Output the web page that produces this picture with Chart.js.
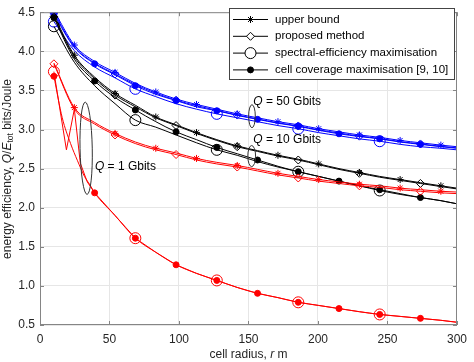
<!DOCTYPE html>
<html>
<head>
<meta charset="utf-8">
<script src="https://cdn.jsdelivr.net/npm/chart.js@4.4.1/dist/chart.umd.min.js"></script>
<style>
  html, body { margin: 0; padding: 0; background: #fff; }
  #wrap { width: 474px; height: 362px; }
</style>
</head>
<body>
<div id="wrap"><canvas id="chart"></canvas></div>
<script>
// cell radius r (m), common sample points
const radius = [10, 24.7, 39.3, 54, 68.6, 83.3, 97.9, 112.6, 127.2, 141.9, 156.5, 171.2, 185.8, 200.5, 215.1, 229.8, 244.4, 259.1, 273.7, 288.4, 300];
// finer sampling for the Q = 1 Gbits curves near small radii
const radiusQ1se = [10, 19, 24.7, 29, 34, 39.3, 54, 68.6, 83.3, 97.9, 112.6, 127.2, 141.9, 156.5, 171.2, 185.8, 200.5, 215.1, 229.8, 244.4, 259.1, 273.7, 288.4, 300];
const radiusQ1cc = [10, 16, 22, 27, 32, 36, 39.3, 54, 68.6, 83.3, 97.9, 112.6, 127.2, 141.9, 156.5, 171.2, 185.8, 200.5, 215.1, 229.8, 244.4, 259.1, 273.7, 288.4, 300];

// Q = 50 Gbits
const upper50    = [4.52, 4.08, 3.87, 3.73, 3.59, 3.48, 3.39, 3.32, 3.26, 3.20, 3.15, 3.10, 3.06, 3.01, 2.97, 2.93, 2.90, 2.86, 2.83, 2.80, 2.78];
const proposed50 = [4.49, 4.06, 3.85, 3.71, 3.575, 3.465, 3.375, 3.305, 3.245, 3.185, 3.135, 3.085, 3.045, 2.995, 2.955, 2.915, 2.885, 2.845, 2.815, 2.785, 2.765];
const spectral50 = [4.38, 4.01, 3.80, 3.66, 3.52, 3.42, 3.33, 3.26, 3.20, 3.15, 3.10, 3.05, 3.01, 2.96, 2.92, 2.88, 2.85, 2.81, 2.78, 2.76, 2.74];
const coverage50 = [4.47, 4.05, 3.84, 3.70, 3.56, 3.45, 3.37, 3.29, 3.24, 3.18, 3.13, 3.08, 3.04, 2.99, 2.945, 2.91, 2.88, 2.84, 2.81, 2.78, 2.76];

// Q = 10 Gbits
const upper10    = [4.46, 3.95, 3.67, 3.46, 3.31, 3.16, 3.06, 2.96, 2.87, 2.79, 2.73, 2.67, 2.62, 2.56, 2.50, 2.45, 2.40, 2.36, 2.32, 2.28, 2.25];
const proposed10 = [4.44, 3.93, 3.65, 3.44, 3.29, 3.15, 3.05, 2.95, 2.86, 2.78, 2.72, 2.66, 2.61, 2.55, 2.49, 2.44, 2.39, 2.35, 2.31, 2.27, 2.24];
const spectral10 = [4.32, 3.86, 3.56, 3.33, 3.12, 3.03, 2.93, 2.83, 2.74, 2.67, 2.59, 2.52, 2.46, 2.40, 2.34, 2.28, 2.22, 2.17, 2.13, 2.09, 2.05];
const coverage10 = [4.43, 3.90, 3.62, 3.41, 3.25, 3.10, 2.97, 2.87, 2.77, 2.69, 2.61, 2.53, 2.46, 2.40, 2.34, 2.28, 2.23, 2.18, 2.13, 2.09, 2.05];

// Q = 1 Gbits
const upper1    = [3.85, 3.28, 3.09, 2.95, 2.84, 2.76, 2.70, 2.63, 2.58, 2.54, 2.49, 2.44, 2.40, 2.36, 2.33, 2.30, 2.28, 2.25, 2.23, 2.21, 2.20];
const proposed1 = [3.84, 3.26, 3.07, 2.93, 2.82, 2.74, 2.68, 2.61, 2.56, 2.52, 2.47, 2.42, 2.38, 2.34, 2.31, 2.28, 2.26, 2.23, 2.21, 2.19, 2.18];
const spectral1 = [3.74, 2.74, 3.26, 2.57, 2.33, 2.19, 1.90, 1.61, 1.43, 1.27, 1.16, 1.07, 0.98, 0.905, 0.85, 0.79, 0.75, 0.71, 0.67, 0.635, 0.61, 0.585, 0.56, 0.535];
const coverage1 = [3.68, 3.15, 2.82, 2.60, 2.40, 2.29, 2.19, 1.90, 1.61, 1.43, 1.27, 1.16, 1.07, 0.98, 0.905, 0.85, 0.79, 0.75, 0.71, 0.67, 0.635, 0.61, 0.585, 0.56, 0.535];

const xTicks = [0, 50, 100, 150, 200, 250, 300];
const yTicks = [0.5, 1.0, 1.5, 2.0, 2.5, 3.0, 3.5, 4.0, 4.5];

const methodNames = ['upper bound', 'proposed method', 'spectral-efficiency maximisation', 'cell coverage maximisation [9, 10]'];

// marker look per method, MATLAB style
const markers = {
  upper:    { pointStyle: 'star',    size: 3.5, fill: false, from: 1, every: 2, to: 20 },
  proposed: { pointStyle: 'rectRot', size: 4,   fill: false, from: 0, every: 3, to: 20 },
  spectral: { pointStyle: 'circle',  size: 5.5, fill: false, from: 0, every: 4, to: 16 },
  coverage: { pointStyle: 'circle',  size: 3,   fill: true,  from: 0, every: 2, to: 18 }
};

const zip = (xs, ys) => xs.map((x, i) => ({ x: x, y: ys[i] }));

function makeSet(label, xs, ys, color, kind, straight) {
  const m = markers[kind];
  return {
    label: label,
    data: zip(xs, ys),
    borderColor: color,
    backgroundColor: m.fill ? color : 'rgba(0,0,0,0)',
    borderWidth: 1,
    pointStyle: m.pointStyle,
    pointBorderWidth: 1,
    pointRadius: ctx => {
      const i = radius.indexOf(ctx.raw.x);
      if (i < 0 || i < m.from || i > m.to) return 0;
      return (i - m.from) % m.every === 0 ? m.size : 0;
    },
    pointHoverRadius: 0,
    cubicInterpolationMode: straight ? 'default' : 'monotone',
    tension: 0,
    fill: false
  };
}

const RED = '#ff0000', BLACK = '#000000', BLUE = '#0000ff';

const datasets = [
  makeSet('upper bound, Q=1', radius, upper1, RED, 'upper'),
  makeSet('proposed, Q=1', radius, proposed1, RED, 'proposed'),
  makeSet('spectral, Q=1', radiusQ1se, spectral1, RED, 'spectral', true),
  makeSet('coverage, Q=1', radiusQ1cc, coverage1, RED, 'coverage'),
  makeSet('upper bound, Q=10', radius, upper10, BLACK, 'upper'),
  makeSet('proposed, Q=10', radius, proposed10, BLACK, 'proposed'),
  makeSet('spectral, Q=10', radius, spectral10, BLACK, 'spectral'),
  makeSet('coverage, Q=10', radius, coverage10, BLACK, 'coverage'),
  makeSet('upper bound, Q=50', radius, upper50, BLUE, 'upper'),
  makeSet('proposed, Q=50', radius, proposed50, BLUE, 'proposed'),
  makeSet('spectral, Q=50', radius, spectral50, BLUE, 'spectral'),
  makeSet('coverage, Q=50', radius, coverage50, BLUE, 'coverage')
];

// group labels: text anchor and ellipse, in data units
const groupNotes = [
  { q: '50', tx: 153.5, ty: 3.36, ex: 152.5, ey: 3.17, rx: 2.4, ry: 0.147 },
  { q: '10', tx: 153.5, ty: 2.87, ex: 152.3, ey: 2.66, rx: 2.8, ry: 0.135 },
  { q: '1',  tx: 39.5, ty: 2.52, ex: 33.2, ey: 2.76, rx: 4.4, ry: 0.59 }
];

const FONT = '"Liberation Sans", Arial, Helvetica, sans-serif';
const FRAME = '#858585';

function drawRuns(ctx, runs, x, y) {
  let cx = x;
  runs.forEach(r => {
    ctx.font = r.font;
    ctx.fillText(r.text, cx, y + (r.dy || 0));
    cx += ctx.measureText(r.text).width;
  });
}
function runsWidth(ctx, runs) {
  let w = 0;
  runs.forEach(r => { ctx.font = r.font; w += ctx.measureText(r.text).width; });
  return w;
}

const extras = {
  id: 'extras',
  afterDatasetsDraw(chart) {
    const ctx = chart.ctx;
    const a = chart.chartArea;
    const xs = chart.scales.x, ys = chart.scales.y;
    ctx.save();

    // frame with inward ticks
    ctx.strokeStyle = FRAME;
    ctx.lineWidth = 1;
    ctx.strokeRect(a.left + 0.5, a.top + 0.5, a.right - a.left - 1, a.bottom - a.top - 1);
    ctx.beginPath();
    xTicks.forEach(v => {
      const px = Math.round(xs.getPixelForValue(v)) + 0.5;
      ctx.moveTo(px, a.bottom); ctx.lineTo(px, a.bottom - 4);
      ctx.moveTo(px, a.top); ctx.lineTo(px, a.top + 4);
    });
    yTicks.forEach(v => {
      const py = Math.round(ys.getPixelForValue(v)) + 0.5;
      ctx.moveTo(a.left, py); ctx.lineTo(a.left + 4, py);
      ctx.moveTo(a.right, py); ctx.lineTo(a.right - 4, py);
    });
    ctx.stroke();

    // Q notes with ellipses
    ctx.fillStyle = '#000';
    ctx.textBaseline = 'middle';
    groupNotes.forEach(n => {
      const cx = xs.getPixelForValue(n.ex), cy = ys.getPixelForValue(n.ey);
      const rx = xs.getPixelForValue(n.ex + n.rx) - cx;
      const ry = cy - ys.getPixelForValue(n.ey + n.ry);
      ctx.strokeStyle = '#333';
      ctx.beginPath();
      ctx.ellipse(cx, cy, rx, ry, n.q === '1' ? -0.02 : 0, 0, Math.PI * 2);
      ctx.stroke();
      drawRuns(ctx, [
        { text: 'Q', font: 'italic 12px ' + FONT },
        { text: ' = ' + n.q + ' Gbits', font: '12px ' + FONT }
      ], xs.getPixelForValue(n.tx), ys.getPixelForValue(n.ty));
    });

    // legend box
    const lx = 229, ly = 8, lw = 225, lh = 71;
    ctx.fillStyle = '#fff';
    ctx.fillRect(lx, ly, lw, lh);
    ctx.strokeStyle = '#444';
    ctx.strokeRect(lx + 0.5, ly + 0.5, lw, lh);
    const kinds = ['upper', 'proposed', 'spectral', 'coverage'];
    kinds.forEach((k, i) => {
      const yy = 19.5 + i * 16.8;
      ctx.strokeStyle = '#000';
      ctx.lineWidth = 1;
      ctx.beginPath();
      ctx.moveTo(233, yy); ctx.lineTo(268, yy);
      ctx.stroke();
      const m = markers[k];
      ctx.fillStyle = m.fill ? '#000' : '#fff';
      Chart.helpers.drawPoint(ctx, { pointStyle: m.pointStyle, radius: m.size, borderWidth: 1, rotation: 0 }, 250.5, yy);
      ctx.fillStyle = '#000';
      ctx.font = '11.5px ' + FONT;
      ctx.fillText(methodNames[i], 275, yy);
    });

    // axis titles
    ctx.fillStyle = '#262626';
    const xr = [
      { text: 'cell radius, ', font: '12px ' + FONT },
      { text: 'r', font: 'italic 12px ' + FONT },
      { text: ' m', font: '12px ' + FONT }
    ];
    const xc = (a.left + a.right) / 2;
    drawRuns(ctx, xr, xc - runsWidth(ctx, xr) / 2, 355);

    const yr = [
      { text: 'energy efficiency, ', font: '12px ' + FONT },
      { text: 'Q', font: 'italic 12px ' + FONT },
      { text: '/', font: '12px ' + FONT },
      { text: 'E', font: 'italic 12px ' + FONT },
      { text: 'tot', font: '8.5px ' + FONT, dy: 3 },
      { text: ' bits/Joule', font: '12px ' + FONT }
    ];
    ctx.translate(8, 169);
    ctx.rotate(-Math.PI / 2);
    drawRuns(ctx, yr, -runsWidth(ctx, yr) / 2, 0);
    ctx.restore();
  }
};

new Chart(document.getElementById('chart'), {
  type: 'line',
  data: { datasets: datasets },
  options: {
    responsive: true,
    maintainAspectRatio: false,
    animation: false,
    layout: { padding: { top: 6, right: 10, left: 0, bottom: 0 } },
    plugins: { legend: { display: false }, tooltip: { enabled: false } },
    scales: {
      x: {
        type: 'linear',
        min: 0, max: 300,
        afterBuildTicks: s => { s.ticks = xTicks.map(v => ({ value: v })); },
        afterFit: s => { s.height = 37; },
        grid: { color: '#e6e6e6', drawTicks: false },
        border: { display: false },
        ticks: { padding: 7, color: '#262626', font: { family: FONT, size: 12 } }
      },
      y: {
        type: 'linear',
        min: 0.5, max: 4.5,
        afterBuildTicks: s => { s.ticks = yTicks.map(v => ({ value: v })); },
        afterFit: s => { s.width = 40; },
        grid: { color: '#e6e6e6', drawTicks: false },
        border: { display: false },
        ticks: { padding: 5, color: '#262626', font: { family: FONT, size: 12 }, callback: v => v.toFixed(1) }
      }
    }
  },
  plugins: [extras]
});
</script>
</body>
</html>
